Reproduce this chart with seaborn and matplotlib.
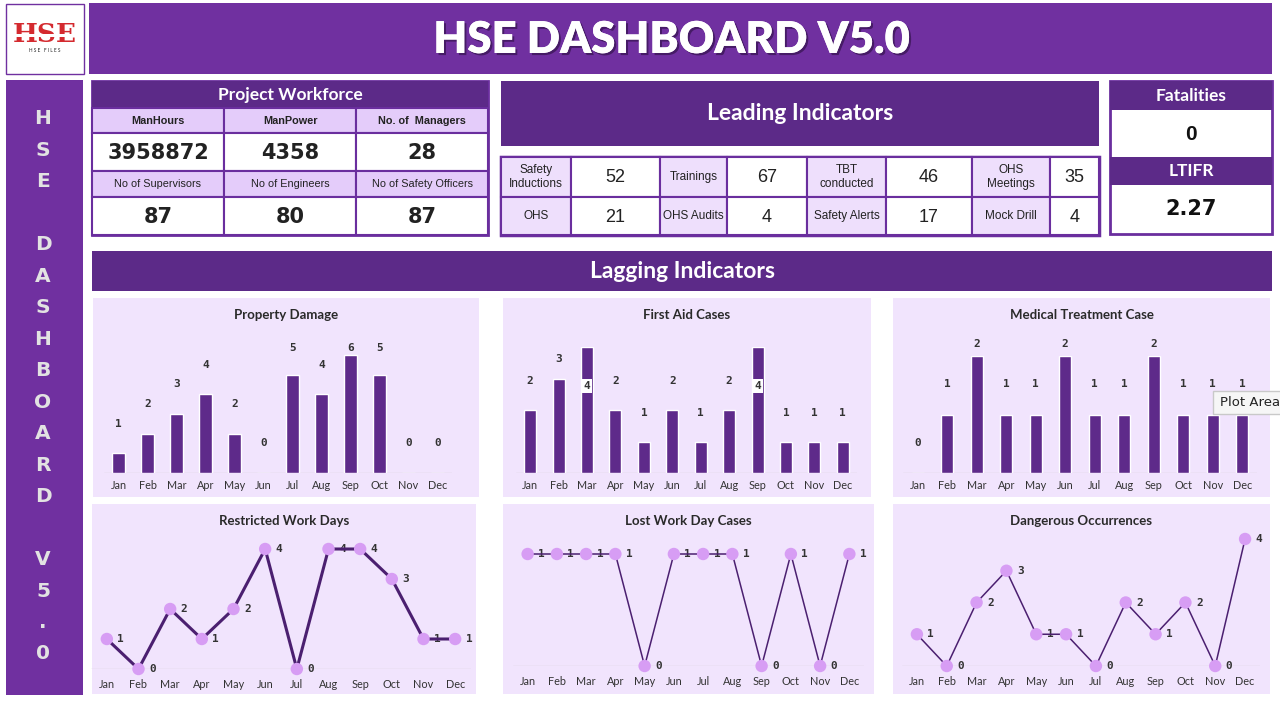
import numpy as np
import pandas as pd
import seaborn as sns
import matplotlib.pyplot as plt
from matplotlib.patches import Rectangle
import matplotlib.patheffects as pe

# ---- data ----
months = ['Jan', 'Feb', 'Mar', 'Apr', 'May', 'Jun', 'Jul', 'Aug', 'Sep', 'Oct', 'Nov', 'Dec']
property_damage = [1, 2, 3, 4, 2, 0, 5, 4, 6, 5, 0, 0]
first_aid = [2, 3, 4, 2, 1, 2, 1, 2, 4, 1, 1, 1]
medical_treatment = [0, 1, 2, 1, 1, 2, 1, 1, 2, 1, 1, 1]
restricted_days = [1, 0, 2, 1, 2, 4, 0, 4, 4, 3, 1, 1]
lost_work_days = [1, 1, 1, 1, 0, 1, 1, 1, 0, 1, 0, 1]
dangerous_occ = [1, 0, 2, 3, 1, 1, 0, 2, 1, 2, 0, 4]

workforce_labels = ['ManHours', 'ManPower', 'No. of  Managers',
                    'No of Supervisors', 'No of Engineers', 'No of Safety Officers']
workforce_values = [3958872, 4358, 28, 87, 80, 87]
leading_labels = ['Safety\nInductions', 'Trainings', 'TBT\nconducted', 'OHS\nMeetings',
                  'OHS', 'OHS Audits', 'Safety Alerts', 'Mock Drill']
leading_values = [52, 67, 46, 35, 21, 4, 17, 4]
fatalities = 0
ltifr = 2.27

# ---- style ----
PURPLE = '#7030A0'
DARK = '#5C2A88'
BORDER = '#6A2E9E'
LIGHT = '#E4CCFA'
LIGHT2 = '#EEDFFC'
PANEL = '#F1E4FD'
BAR = '#5E2A8A'
LINE = '#4B1F70'
MARK = '#D79DF4'
W, H = 1280, 706

sns.set_theme(style='white')
plt.rcParams['font.family'] = ['Lato', 'DejaVu Sans']
HEAD = ['Lato', 'DejaVu Sans']
NARROW = ['Liberation Sans Narrow', 'Liberation Sans', 'DejaVu Sans']
MONO = ['DejaVu Sans Mono']

fig = plt.figure(figsize=(W / 100, H / 100), dpi=100)
fig.patch.set_facecolor('white')

ov = fig.add_axes([0, 0, 1, 1])
ov.set_xlim(0, W)
ov.set_ylim(H, 0)
ov.axis('off')
ov.set_zorder(0)


def rect(x0, y0, x1, y1, fc, ec='none', lw=0, z=1):
    ov.add_patch(Rectangle((x0, y0), x1 - x0, y1 - y0, fc=fc, ec=ec, lw=lw, zorder=z))


def txt(x, y, s, **kw):
    kw.setdefault('ha', 'center')
    kw.setdefault('va', 'center')
    ov.text(x, y, s, **kw)


def px_axes(x0, y0, x1, y1):
    ax = fig.add_axes([x0 / W, 1 - y1 / H, (x1 - x0) / W, (y1 - y0) / H])
    ax.set_zorder(2)
    ax.patch.set_visible(False)
    return ax


# logo
rect(6, 4, 84, 74, 'white', PURPLE, 1)
txt(45, 35, 'HSE', fontsize=19, color='#D42A2F', family=['DejaVu Serif'], fontweight='bold', zorder=2)
rect(12, 34, 78, 37, 'white', z=3)
txt(45, 51, 'H S E   F I L E S', fontsize=3.4, color='#222222', zorder=4)

# title banner
rect(89, 3, 1272, 74, PURPLE)
txt(672, 40, 'HSE DASHBOARD V5.0', fontsize=31.5, color='white', fontweight='heavy', family=HEAD,
    path_effects=[pe.withSimplePatchShadow(offset=(1.5, -1.5), shadow_rgbFace='#2A0E40', alpha=0.6),
                  pe.Normal()])

# sidebar
rect(6, 80, 83, 695, PURPLE)
for i, ch in enumerate('HSE DASHBOARD V5.0'):
    if ch != ' ':
        txt(43, 119 + i * 31.47, ch, fontsize=14.5, color='#E2E2E2', fontweight='heavy',
            family=['DejaVu Sans'])

# project workforce
rect(92, 81, 488, 235, 'white', BORDER, 2)
rect(92, 81, 488, 108, DARK)
txt(290, 95, 'Project Workforce', fontsize=12.5, color='white', fontweight='bold', family=HEAD)
cols = [92, 224, 356, 488]
rows = [(108, 133, 171), (171, 197, 235)]
for r, (ya, yb, yc) in enumerate(rows):
    for c in range(3):
        k = r * 3 + c
        rect(cols[c], ya, cols[c + 1], yb, LIGHT, BORDER, 1.5)
        rect(cols[c], yb, cols[c + 1], yc, 'white', BORDER, 1.5)
        xm = (cols[c] + cols[c + 1]) / 2
        txt(xm, (ya + yb) / 2, workforce_labels[k], fontsize=7.8, color='#222222',
            fontweight='bold' if r == 0 else 'normal', family=['Liberation Sans', 'DejaVu Sans'])
        txt(xm, (yb + yc) / 2 + 1, f'{workforce_values[k]}', fontsize=15, color='#222222',
            fontweight='heavy', family=['DejaVu Sans'])

# leading indicators
rect(501, 81, 1099, 146, DARK)
txt(800, 114, 'Leading Indicators', fontsize=16.5, color='white', fontweight='bold', family=HEAD)
lcols = [501, 571, 660, 727, 807, 886, 972, 1050, 1099]
lrows = [157, 197, 235]
rect(501, 157, 1099, 235, 'white', BORDER, 2.5)
for r in range(2):
    for j in range(4):
        k = r * 4 + j
        xa, xb, xc = lcols[2 * j], lcols[2 * j + 1], lcols[2 * j + 2]
        ya, yb = lrows[r], lrows[r + 1]
        rect(xa, ya, xb, yb, LIGHT2, BORDER, 1.5)
        rect(xb, ya, xc, yb, 'white', BORDER, 1.5)
        txt((xa + xb) / 2, (ya + yb) / 2, leading_labels[k], fontsize=8.5, color='#222222',
            family=NARROW, linespacing=1.2)
        txt((xb + xc) / 2, (ya + yb) / 2 + 1, f'{leading_values[k]}', fontsize=13, color='#222222',
            family=NARROW)

# fatalities / ltifr
rect(1110, 81, 1272, 234, 'white', BORDER, 2)
rect(1110, 81, 1272, 110, DARK)
txt(1191, 96, 'Fatalities', fontsize=12.5, color='white', fontweight='bold', family=HEAD)
txt(1191, 134, f'{fatalities}', fontsize=15, color='#111111', fontweight='bold', family=NARROW)
rect(1110, 157, 1272, 185, DARK)
txt(1191, 171, 'LTIFR', fontsize=12.5, color='white', fontweight='bold', family=HEAD)
txt(1191, 209, f'{ltifr:.2f}', fontsize=15, color='#111111', fontweight='heavy', family=['DejaVu Sans'])

# lagging band
rect(92, 251, 1272, 291, DARK)
txt(683, 271, 'Lagging Indicators', fontsize=16.5, color='white', fontweight='bold', family=HEAD)

# chart panels
panels = [(93, 298, 479, 497), (503, 298, 871, 497), (893, 298, 1270, 497),
          (92, 504, 476, 694), (503, 504, 874, 694), (893, 504, 1270, 694)]
titles = ['Property Damage', 'First Aid Cases', 'Medical Treatment Case',
          'Restricted Work Days', 'Lost Work Day Cases', 'Dangerous Occurrences']
for (x0, y0, x1, y1), t in zip(panels, titles):
    rect(x0, y0, x1, y1, PANEL)
    txt((x0 + x1) / 2, y0 + 17, t, fontsize=9.5, color='#2A2A2A', fontweight='bold', family=HEAD)


def style_axis(ax, ymax):
    ax.set_ylim(0, ymax)
    ax.set_xlim(-0.5, 11.5)
    ax.set_xticks(range(12))
    ax.set_xticklabels(months, fontsize=7.8, color='#333333')
    ax.set_yticks([])
    ax.set_xlabel('')
    ax.set_ylabel('')
    ax.tick_params(axis='x', length=0, pad=5)
    sns.despine(ax=ax, left=True, bottom=True, top=True, right=True)
    ax.axhline(0, color='#D8D0DE', lw=1, zorder=0)


def bar_chart(box, vals, ymax, off, cap):
    ax = px_axes(*box)
    df = pd.DataFrame({'month': months, 'value': vals})
    sns.barplot(data=df, x='month', y='value', color=BAR, width=0.42, saturation=1, ax=ax)
    style_axis(ax, ymax)
    for i, v in enumerate(vals):
        if v >= cap:
            ax.text(i, v - 1.24, str(v), ha='center', va='center', fontsize=8, fontweight='bold',
                    family=MONO, color='#333333', clip_on=False,
                    bbox=dict(boxstyle='square,pad=0.15', fc='white', ec='none'))
        else:
            ax.text(i, min(v + off, cap), str(v), ha='center', va='center', fontsize=8,
                    fontweight='bold', family=MONO, color='#333333', clip_on=False)


def line_chart(box, vals, ymax, lw):
    ax = px_axes(*box)
    df = pd.DataFrame({'idx': np.arange(12), 'value': vals})
    sns.lineplot(data=df, x='idx', y='value', color=LINE, lw=lw, ax=ax, zorder=3, clip_on=False)
    sns.scatterplot(data=df, x='idx', y='value', color=MARK, s=80, edgecolor='none', ax=ax,
                    zorder=4, clip_on=False)
    style_axis(ax, ymax)
    ax.tick_params(axis='x', pad=7)
    for i, v in enumerate(vals):
        ax.annotate(str(v), (i, v), xytext=(10, 0), textcoords='offset points', ha='center',
                    va='center', fontsize=8, fontweight='bold', family=MONO, color='#333333',
                    zorder=2, annotation_clip=False)


bar_chart((104, 347, 452, 473), property_damage, 6.4, 1.5, 6.35)
bar_chart((516, 347, 857, 473), first_aid, 4.0, 0.92, 3.62)
bar_chart((903, 356, 1257, 473), medical_treatment, 2.0, 0.52, 2.2)
line_chart((91, 549, 471, 669), restricted_days, 4, 2.2)
line_chart((513, 554, 864, 666), lost_work_days, 1, 1.1)
line_chart((902, 539, 1260, 666), dangerous_occ, 4, 1.1)

# tooltip
top = fig.add_axes([0, 0, 1, 1])
top.set_xlim(0, W)
top.set_ylim(H, 0)
top.axis('off')
top.set_zorder(5)
top.add_patch(Rectangle((1213, 391), 70, 23, fc='#F6F6F6', ec='#C9C9C9', lw=1))
top.text(1220, 403, 'Plot Area', ha='left', va='center', fontsize=9.5, color='#222222',
         family=['DejaVu Sans'])

fig.savefig('out.png', dpi=100)
